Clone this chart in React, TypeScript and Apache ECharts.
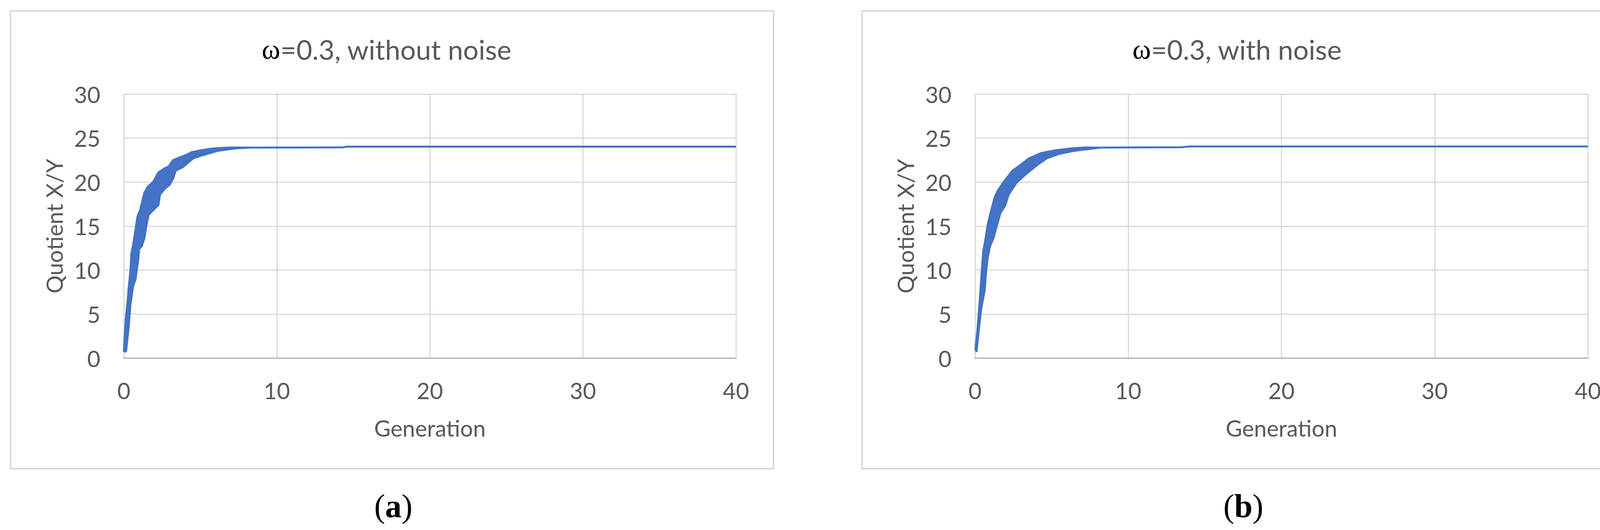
import React, { useEffect, useRef } from "react";
import * as echarts from "echarts";

// ---- data ----
const titleA = "=0.3, without noise";
const titleB = "=0.3, with noise";
const panelLabels = ["a", "b"];
const xName = "Generation";
const yName = "Quotient X/Y";

// panel (a): upper / lower edge of the noisy band, then the plateau
const upperA = [
  [0, 0.7], [0.09, 3.55], [0.15, 4.9], [0.26, 6.7], [0.32, 8.1], [0.43, 9.9],
  [0.49, 11.9], [0.6, 12.8], [0.77, 14.7], [0.89, 16.1], [1.06, 16.8], [1.34, 18.8],
  [1.57, 19.5], [1.91, 20.0], [2.26, 21.1], [2.6, 21.5], [2.94, 21.8], [3.22, 22.5],
  [3.62, 22.8], [4.08, 23.1], [4.42, 23.4], [4.99, 23.6], [5.67, 23.8], [6.47, 23.9],
  [7.27, 23.94],
];
const lowerA = [
  [0.05, 0.7], [0.15, 0.8], [0.32, 3.55], [0.43, 6.06], [0.6, 8.1], [0.77, 9.0], [0.95, 11.3],
  [1.0, 12.4], [1.17, 12.7], [1.34, 13.6], [1.51, 15.4], [1.63, 16.3], [1.91, 16.8],
  [2.26, 17.4], [2.37, 18.6], [2.71, 19.3], [3.0, 19.7], [3.22, 20.4], [3.39, 21.3],
  [3.85, 21.7], [4.19, 22.2], [4.53, 22.7], [5.22, 23.1], [6.13, 23.55], [7.27, 23.83],
  [8.18, 23.92],
];
const plateauA = [
  [7.27, 23.94], [8.18, 23.92], [10, 23.93], [14.3, 23.95], [14.6, 24.03], [40, 24.03],
];

// panel (b)
const upperB = [
  [0.02, 0.85], [0.15, 3.1], [0.24, 5.0], [0.34, 7.3], [0.44, 9.9], [0.54, 12.2],
  [0.68, 13.5], [0.83, 15.2], [0.98, 16.3], [1.27, 18.2], [1.47, 19.0], [1.86, 20.0],
  [2.44, 21.3], [2.93, 21.9], [3.52, 22.7], [4.3, 23.3], [5.18, 23.6], [6.26, 23.83],
  [7.23, 23.94],
];
const lowerB = [
  [0.04, 0.8], [0.1, 0.75], [0.39, 5.4], [0.64, 7.8], [0.73, 9.9], [0.83, 11.4], [0.98, 12.7],
  [1.22, 13.7], [1.42, 15.0], [1.66, 16.5], [1.96, 17.3], [2.2, 18.6], [2.74, 20.0],
  [3.32, 20.9], [4.1, 22.0], [4.69, 22.7], [5.47, 23.2], [6.45, 23.55], [7.62, 23.8],
  [8.1, 23.9],
];
const plateauB = [
  [7.23, 23.94], [8.1, 23.92], [10, 23.94], [13.5, 23.96], [14.0, 24.05], [40, 24.05],
];

const BLUE = "#4472C4";
const GRAY_TEXT = "#595959";
const GRID_COLOR = "#D9D9D9";
const FONT = "Lato";
const FS = 58;

export default function App() {
  const ref = useRef<HTMLDivElement>(null);

  useEffect(() => {
    if (!ref.current) return;
    const chart = echarts.init(ref.current, undefined, { renderer: "svg" });

    const labelStyle = { fontSize: FS, color: GRAY_TEXT, fontFamily: FONT, lineHeight: FS };

    const makeX = (gi: number) => ({
      type: "value",
      gridIndex: gi,
      min: 0,
      max: 40,
      interval: 10,
      axisLine: { show: true, onZero: false, lineStyle: { color: "#BFBFBF", width: 4 } },
      axisTick: { show: false },
      splitLine: { show: true, lineStyle: { color: GRID_COLOR, width: 3 } },
      axisLabel: { ...labelStyle, margin: 53 },
      name: xName,
      nameLocation: "middle",
      nameGap: 149,
      nameTextStyle: labelStyle,
    });
    const makeY = (gi: number) => ({
      type: "value",
      gridIndex: gi,
      min: 0,
      max: 30,
      interval: 5,
      axisLine: { show: false },
      axisTick: { show: false },
      splitLine: { show: true, lineStyle: { color: GRID_COLOR, width: 3 } },
      axisLabel: { ...labelStyle, margin: 60 },
      name: yName,
      nameLocation: "middle",
      nameGap: 150,
      nameTextStyle: labelStyle,
    });

    const band = (gi: number, up: number[][], lo: number[][]) => ({
      type: "custom",
      coordinateSystem: "cartesian2d",
      xAxisIndex: gi,
      yAxisIndex: gi,
      data: [[0, 0]],
      silent: true,
      z: 3,
      renderItem: (_p: any, api: any) => ({
        type: "polygon",
        shape: {
          points: [
            ...up.map((pt) => api.coord(pt)),
            ...lo.slice().reverse().map((pt) => api.coord(pt)),
          ],
        },
        style: { fill: BLUE },
      }),
    });
    const line = (gi: number, data: number[][]) => ({
      type: "line",
      xAxisIndex: gi,
      yAxisIndex: gi,
      data,
      showSymbol: false,
      symbol: "none",
      silent: true,
      z: 4,
      lineStyle: { color: BLUE, width: 5 },
    });

    const titleRich = {
      w: { fontFamily: "Liberation Serif", fontSize: 72, fontWeight: "normal", color: "#000", lineHeight: 76 },
      t: { fontFamily: FONT, fontSize: 70, fontWeight: "normal", color: GRAY_TEXT, lineHeight: 76 },
    };
    const labRich = {
      p: { fontFamily: "Liberation Serif", fontSize: 84, fontWeight: "normal", color: "#000", lineHeight: 90 },
      b: { fontFamily: "Liberation Serif", fontSize: 84, fontWeight: "bold", color: "#000", lineHeight: 90 },
    };

    const option: any = {
      animation: false,
      backgroundColor: "#fff",
      title: [
        { text: "{w|ω}{t|" + titleA + "}", left: 990, top: 88, textAlign: "center", padding: 0, textStyle: { fontWeight: "normal", rich: titleRich } },
        { text: "{w|ω}{t|" + titleB + "}", left: 3167, top: 88, textAlign: "center", padding: 0, textStyle: { fontWeight: "normal", rich: titleRich } },
        { text: "{p|(}{b|" + panelLabels[0] + "}{p|)}", left: 1007, top: 1250, textAlign: "center", padding: 0, textStyle: { fontWeight: "normal", rich: labRich } },
        { text: "{p|(}{b|" + panelLabels[1] + "}{p|)}", left: 3183, top: 1250, textAlign: "center", padding: 0, textStyle: { fontWeight: "normal", rich: labRich } },
      ],
      graphic: [
        { type: "rect", shape: { x: 27, y: 28, width: 1953, height: 1172 }, style: { fill: "none", stroke: GRID_COLOR, lineWidth: 4 }, silent: true },
        { type: "rect", shape: { x: 2207, y: 28, width: 1953, height: 1172 }, style: { fill: "none", stroke: GRID_COLOR, lineWidth: 4 }, silent: true },
      ],
      grid: [
        { left: 317, top: 241, width: 1567, height: 676 },
        { left: 2496, top: 241, width: 1569, height: 676 },
      ],
      xAxis: [makeX(0), makeX(1)],
      yAxis: [makeY(0), makeY(1)],
      series: [
        band(0, upperA, lowerA),
        line(0, upperA),
        line(0, lowerA),
        line(0, plateauA),
        band(1, upperB, lowerB),
        line(1, upperB),
        line(1, lowerB),
        line(1, plateauB),
      ],
    };
    chart.setOption(option);
    return () => chart.dispose();
  }, []);

  return (
    <div
      ref={ref}
      style={{ position: "fixed", left: 0, top: 0, width: 4179, height: 1357, background: "#fff" }}
    />
  );
}
